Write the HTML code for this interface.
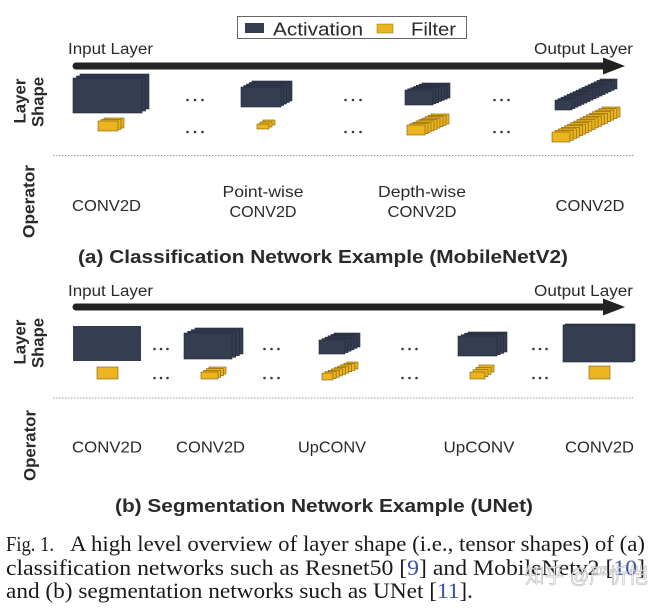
<!DOCTYPE html>
<html>
<head>
<meta charset="utf-8">
<style>
  html, body { margin:0; padding:0; background:#ffffff; }
  body { width:659px; height:612px; overflow:hidden; }
  svg { display:block; }
  .sans { font-family: "Liberation Sans", "DejaVu Sans", sans-serif; fill:#2a2a2a; }
  .serif { font-family: "Liberation Serif", "DejaVu Serif", serif; fill:#1a1a1a; }
  .a rect { fill:#353d51; stroke:#232939; stroke-width:0.6; }
  .f rect { fill:#ecb41f; stroke:#7a5a0a; stroke-width:0.6; }
  .d circle { fill:#3a3a3a; }
</style>
</head>
<body>
<svg width="659" height="612" viewBox="0 0 659 612" xmlns="http://www.w3.org/2000/svg">
  <rect x="0" y="0" width="659" height="612" fill="#ffffff"/>

  <!-- Legend -->
  <rect x="237.5" y="16.5" width="229" height="22" fill="#fff" stroke="#666" stroke-width="1"/>
  <rect x="245" y="23" width="19" height="10" fill="#353d51"/>
  <text class="sans" x="273" y="35.5" font-size="18.5" textLength="90" lengthAdjust="spacingAndGlyphs">Activation</text>
  <rect x="377" y="24" width="16" height="9" fill="#ecb41f" stroke="#8a6a10" stroke-width="0.5"/>
  <text class="sans" x="411" y="35.5" font-size="18.5" textLength="45" lengthAdjust="spacingAndGlyphs">Filter</text>

  <!-- ===== Panel (a) ===== -->
  <text class="sans" x="68" y="54" font-size="15.5" textLength="85" lengthAdjust="spacingAndGlyphs">Input Layer</text>
  <text class="sans" x="534" y="54" font-size="15.5" textLength="99" lengthAdjust="spacingAndGlyphs">Output Layer</text>
  <line x1="76" y1="66" x2="606" y2="66" stroke="#222" stroke-width="7" stroke-linecap="round"/>
  <polygon points="603,57.5 625,66 603,74.5" fill="#222"/>

  <text class="sans" font-weight="bold" font-size="16.5" text-anchor="middle" transform="translate(25.5,101) rotate(-90)" textLength="45" lengthAdjust="spacingAndGlyphs">Layer</text>
  <text class="sans" font-weight="bold" font-size="16.5" text-anchor="middle" transform="translate(43.5,102) rotate(-90)" textLength="50" lengthAdjust="spacingAndGlyphs">Shape</text>

  <!-- activations (a) -->
  <g class="a">
    <rect x="80" y="74" width="69" height="35"/>
    <rect x="76.5" y="76" width="69" height="35"/>
    <rect x="73" y="78" width="69" height="35"/>
  </g>
  <g class="a">
    <rect x="252" y="81" width="40" height="20"/>
    <rect x="249.25" y="82.5" width="40" height="20"/>
    <rect x="246.5" y="84" width="40" height="20"/>
    <rect x="243.75" y="85.5" width="40" height="20"/>
    <rect x="241" y="87" width="40" height="20"/>
  </g>
  <g class="a">
    <rect x="422" y="83" width="28" height="15"/>
    <rect x="419.2" y="84.2" width="28" height="15"/>
    <rect x="416.3" y="85.3" width="28" height="15"/>
    <rect x="413.5" y="86.5" width="28" height="15"/>
    <rect x="410.7" y="87.7" width="28" height="15"/>
    <rect x="407.8" y="88.8" width="28" height="15"/>
    <rect x="405" y="90" width="28" height="15"/>
  </g>
  <g class="a">
    <rect x="600" y="79" width="17" height="10"/>
    <rect x="597" y="80.4" width="17" height="10"/>
    <rect x="594" y="81.8" width="17" height="10"/>
    <rect x="591" y="83.2" width="17" height="10"/>
    <rect x="588" y="84.6" width="17" height="10"/>
    <rect x="585" y="86" width="17" height="10"/>
    <rect x="582" y="87.4" width="17" height="10"/>
    <rect x="579" y="88.8" width="17" height="10"/>
    <rect x="576" y="90.2" width="17" height="10"/>
    <rect x="573" y="91.6" width="17" height="10"/>
    <rect x="570" y="93" width="17" height="10"/>
    <rect x="567" y="94.4" width="17" height="10"/>
    <rect x="564" y="95.8" width="17" height="10"/>
    <rect x="561" y="97.2" width="17" height="10"/>
    <rect x="558" y="98.6" width="17" height="10"/>
    <rect x="555" y="100" width="17" height="10"/>
  </g>

  <!-- filters (a) -->
  <g class="f">
    <rect x="104" y="118" width="20" height="10"/>
    <rect x="101" y="119.5" width="20" height="10"/>
    <rect x="98" y="121" width="20" height="10"/>
  </g>
  <g class="f">
    <rect x="263" y="120" width="12" height="5"/>
    <rect x="260" y="122" width="12" height="5"/>
    <rect x="257" y="124" width="12" height="5"/>
  </g>
  <g class="f">
    <rect x="431" y="114" width="18" height="10"/>
    <rect x="428" y="115.4" width="18" height="10"/>
    <rect x="425" y="116.75" width="18" height="10"/>
    <rect x="422" y="118.1" width="18" height="10"/>
    <rect x="419" y="119.5" width="18" height="10"/>
    <rect x="416" y="120.9" width="18" height="10"/>
    <rect x="413" y="122.25" width="18" height="10"/>
    <rect x="410" y="123.6" width="18" height="10"/>
    <rect x="407" y="125" width="18" height="10"/>
  </g>
  <g class="f">
    <rect x="602" y="107" width="18" height="10"/>
    <rect x="598.9" y="108.6" width="18" height="10"/>
    <rect x="595.75" y="110.1" width="18" height="10"/>
    <rect x="592.6" y="111.7" width="18" height="10"/>
    <rect x="589.5" y="113.25" width="18" height="10"/>
    <rect x="586.4" y="114.8" width="18" height="10"/>
    <rect x="583.25" y="116.4" width="18" height="10"/>
    <rect x="580.1" y="117.9" width="18" height="10"/>
    <rect x="577" y="119.5" width="18" height="10"/>
    <rect x="573.9" y="121.1" width="18" height="10"/>
    <rect x="570.75" y="122.6" width="18" height="10"/>
    <rect x="567.6" y="124.2" width="18" height="10"/>
    <rect x="564.5" y="125.75" width="18" height="10"/>
    <rect x="561.4" y="127.3" width="18" height="10"/>
    <rect x="558.25" y="128.9" width="18" height="10"/>
    <rect x="555.1" y="130.4" width="18" height="10"/>
    <rect x="552" y="132" width="18" height="10"/>
  </g>

  <!-- dots (a) -->
  <g class="d">
    <circle cx="187.5" cy="100" r="1.3"/><circle cx="195" cy="100" r="1.3"/><circle cx="202.5" cy="100" r="1.3"/>
    <circle cx="187.5" cy="132" r="1.3"/><circle cx="195" cy="132" r="1.3"/><circle cx="202.5" cy="132" r="1.3"/>
    <circle cx="345.5" cy="100" r="1.3"/><circle cx="353" cy="100" r="1.3"/><circle cx="360.5" cy="100" r="1.3"/>
    <circle cx="345.5" cy="132" r="1.3"/><circle cx="353" cy="132" r="1.3"/><circle cx="360.5" cy="132" r="1.3"/>
    <circle cx="494.5" cy="100" r="1.3"/><circle cx="501.5" cy="100" r="1.3"/><circle cx="508.5" cy="100" r="1.3"/>
    <circle cx="494.5" cy="132" r="1.3"/><circle cx="501.5" cy="132" r="1.3"/><circle cx="508.5" cy="132" r="1.3"/>
  </g>

  <line x1="53" y1="155.5" x2="634" y2="155.5" stroke="#9a9a9a" stroke-width="1" stroke-dasharray="1.5,1.5"/>

  <text class="sans" font-weight="bold" font-size="17" text-anchor="middle" transform="translate(34.5,201.5) rotate(-90)" textLength="73" lengthAdjust="spacingAndGlyphs">Operator</text>

  <text class="sans" x="106.5" y="211" font-size="16" text-anchor="middle" textLength="69" lengthAdjust="spacingAndGlyphs">CONV2D</text>
  <text class="sans" x="263" y="197" font-size="16" text-anchor="middle" textLength="81" lengthAdjust="spacingAndGlyphs">Point-wise</text>
  <text class="sans" x="263" y="217" font-size="16" text-anchor="middle" textLength="67" lengthAdjust="spacingAndGlyphs">CONV2D</text>
  <text class="sans" x="422" y="197" font-size="16" text-anchor="middle" textLength="88" lengthAdjust="spacingAndGlyphs">Depth-wise</text>
  <text class="sans" x="422" y="217" font-size="16" text-anchor="middle" textLength="69" lengthAdjust="spacingAndGlyphs">CONV2D</text>
  <text class="sans" x="590" y="211" font-size="16" text-anchor="middle" textLength="69" lengthAdjust="spacingAndGlyphs">CONV2D</text>

  <text class="sans" x="78" y="263" font-size="18" font-weight="bold" textLength="490" lengthAdjust="spacingAndGlyphs">(a) Classification Network Example (MobileNetV2)</text>

  <!-- ===== Panel (b) ===== -->
  <text class="sans" x="68" y="296" font-size="15.5" textLength="85" lengthAdjust="spacingAndGlyphs">Input Layer</text>
  <text class="sans" x="534" y="296" font-size="15.5" textLength="99" lengthAdjust="spacingAndGlyphs">Output Layer</text>
  <line x1="76" y1="307" x2="606" y2="307" stroke="#222" stroke-width="7" stroke-linecap="round"/>
  <polygon points="603,298.5 625,307 603,315.5" fill="#222"/>

  <text class="sans" font-weight="bold" font-size="16.5" text-anchor="middle" transform="translate(25.5,342) rotate(-90)" textLength="45" lengthAdjust="spacingAndGlyphs">Layer</text>
  <text class="sans" font-weight="bold" font-size="16.5" text-anchor="middle" transform="translate(43.5,343) rotate(-90)" textLength="50" lengthAdjust="spacingAndGlyphs">Shape</text>

  <!-- activations (b) -->
  <rect x="73" y="326" width="68" height="35" fill="#353d51"/>
  <g class="a">
    <rect x="195" y="328" width="48" height="26"/>
    <rect x="191.3" y="329.7" width="48" height="26"/>
    <rect x="187.7" y="331.3" width="48" height="26"/>
    <rect x="184" y="333" width="48" height="26"/>
  </g>
  <g class="a">
    <rect x="334" y="333" width="26" height="14"/>
    <rect x="331" y="334.4" width="26" height="14"/>
    <rect x="328" y="335.8" width="26" height="14"/>
    <rect x="325" y="337.2" width="26" height="14"/>
    <rect x="322" y="338.6" width="26" height="14"/>
    <rect x="319" y="340" width="26" height="14"/>
  </g>
  <g class="a">
    <rect x="468" y="332" width="39" height="20"/>
    <rect x="464.7" y="333.3" width="39" height="20"/>
    <rect x="461.3" y="334.7" width="39" height="20"/>
    <rect x="458" y="336" width="39" height="20"/>
  </g>
  <g class="a">
    <rect x="565" y="324" width="70" height="37"/>
    <rect x="563" y="325" width="70" height="37"/>
  </g>

  <!-- filters (b) -->
  <rect x="97" y="367" width="21" height="12" fill="#ecb41f" stroke="#7a5a0a" stroke-width="0.6"/>
  <g class="f">
    <rect x="209" y="367" width="17" height="7"/>
    <rect x="206.3" y="368.7" width="17" height="7"/>
    <rect x="203.7" y="370.3" width="17" height="7"/>
    <rect x="201" y="372" width="17" height="7"/>
  </g>
  <g class="f">
    <rect x="347" y="362" width="11" height="7"/>
    <rect x="343.9" y="363.4" width="11" height="7"/>
    <rect x="340.75" y="364.75" width="11" height="7"/>
    <rect x="337.6" y="366.1" width="11" height="7"/>
    <rect x="334.5" y="367.5" width="11" height="7"/>
    <rect x="331.4" y="368.9" width="11" height="7"/>
    <rect x="328.25" y="370.25" width="11" height="7"/>
    <rect x="325.1" y="371.6" width="11" height="7"/>
    <rect x="322" y="373" width="11" height="7"/>
  </g>
  <g class="f">
    <rect x="479" y="365" width="15" height="7"/>
    <rect x="476" y="367.3" width="15" height="7"/>
    <rect x="473" y="369.7" width="15" height="7"/>
    <rect x="470" y="372" width="15" height="7"/>
  </g>
  <rect x="589" y="366" width="21" height="13" fill="#ecb41f" stroke="#7a5a0a" stroke-width="0.6"/>

  <!-- dots (b) -->
  <g class="d">
    <circle cx="154.5" cy="349" r="1.3"/><circle cx="161" cy="349" r="1.3"/><circle cx="167.5" cy="349" r="1.3"/>
    <circle cx="154.5" cy="378" r="1.3"/><circle cx="161" cy="378" r="1.3"/><circle cx="167.5" cy="378" r="1.3"/>
    <circle cx="264.5" cy="349" r="1.3"/><circle cx="271.5" cy="349" r="1.3"/><circle cx="278.5" cy="349" r="1.3"/>
    <circle cx="264.5" cy="378" r="1.3"/><circle cx="271.5" cy="378" r="1.3"/><circle cx="278.5" cy="378" r="1.3"/>
    <circle cx="402.5" cy="349" r="1.3"/><circle cx="409.5" cy="349" r="1.3"/><circle cx="416.5" cy="349" r="1.3"/>
    <circle cx="402.5" cy="378" r="1.3"/><circle cx="409.5" cy="378" r="1.3"/><circle cx="416.5" cy="378" r="1.3"/>
    <circle cx="533.5" cy="349" r="1.3"/><circle cx="540" cy="349" r="1.3"/><circle cx="546.5" cy="349" r="1.3"/>
    <circle cx="533.5" cy="378" r="1.3"/><circle cx="540" cy="378" r="1.3"/><circle cx="546.5" cy="378" r="1.3"/>
  </g>

  <line x1="53" y1="398" x2="633" y2="398" stroke="#9a9a9a" stroke-width="1" stroke-dasharray="1.5,1.5"/>

  <text class="sans" font-weight="bold" font-size="17" text-anchor="middle" transform="translate(35.5,445.5) rotate(-90)" textLength="71" lengthAdjust="spacingAndGlyphs">Operator</text>

  <text class="sans" x="107" y="452.5" font-size="16" text-anchor="middle" textLength="70" lengthAdjust="spacingAndGlyphs">CONV2D</text>
  <text class="sans" x="210.5" y="452.5" font-size="16" text-anchor="middle" textLength="69" lengthAdjust="spacingAndGlyphs">CONV2D</text>
  <text class="sans" x="332" y="452.5" font-size="16" text-anchor="middle" textLength="68" lengthAdjust="spacingAndGlyphs">UpCONV</text>
  <text class="sans" x="479" y="452.5" font-size="16" text-anchor="middle" textLength="71" lengthAdjust="spacingAndGlyphs">UpCONV</text>
  <text class="sans" x="599.5" y="452.5" font-size="16" text-anchor="middle" textLength="69" lengthAdjust="spacingAndGlyphs">CONV2D</text>

  <text class="sans" x="115" y="512" font-size="18" font-weight="bold" textLength="418" lengthAdjust="spacingAndGlyphs">(b) Segmentation Network Example (UNet)</text>

  <!-- Caption -->
  <text class="serif" x="6" y="551" font-size="21" textLength="48" lengthAdjust="spacingAndGlyphs">Fig. 1.</text>
  <text class="serif" x="70" y="551" font-size="22.5" textLength="575" lengthAdjust="spacingAndGlyphs">A high level overview of layer shape (i.e., tensor shapes) of (a)</text>
  <text class="serif" x="6" y="575" font-size="22.5" textLength="639" lengthAdjust="spacingAndGlyphs">classification networks such as Resnet50 [<tspan fill="#3b4fa8">9</tspan>] and MobileNetv2 [<tspan fill="#3b4fa8">10</tspan>]</text>
  <text class="serif" x="6" y="598" font-size="22.5" textLength="467" lengthAdjust="spacingAndGlyphs">and (b) segmentation networks such as UNet [<tspan fill="#3b4fa8">11</tspan>].</text>

  <!-- watermark -->
  <text x="525" y="583" font-family="'Liberation Sans', 'Noto Sans CJK SC', sans-serif" font-size="21" fill="#f2f2f2" fill-opacity="0.8" stroke="#9a9a9a" stroke-width="0.6" stroke-opacity="0.7" textLength="123" lengthAdjust="spacingAndGlyphs">知乎 @严忻恺</text>
</svg>
</body>
</html>
